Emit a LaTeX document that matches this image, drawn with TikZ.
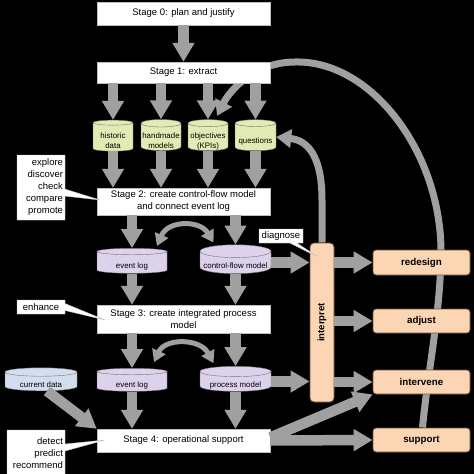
\documentclass[tikz,border=0pt]{standalone}
\usepackage{fontspec}
\setmainfont{Liberation Sans}
\usetikzlibrary{arrows.meta,shapes.geometric,shapes.callouts}
\pgfdeclarelayer{bottom}
\pgfdeclarelayer{background}
\pgfsetlayers{bottom,background,main}
\definecolor{agray}{RGB}{160,160,160}
\definecolor{cgreen}{RGB}{226,235,180}
\definecolor{clav}{RGB}{221,210,235}
\definecolor{cblue}{RGB}{210,222,238}
\definecolor{peach}{RGB}{252,213,180}
\definecolor{peachb}{RGB}{110,80,50}
\newcommand{\cyltext}[1]{\raisebox{-4.5pt}[\height][\depth]{\begin{tabular}{@{}c@{}}#1\end{tabular}}}
\begin{document}
\begin{tikzpicture}[x=1pt,y=-1pt,
  stagebox/.style={draw=black!25, fill=white, minimum width=173pt, inner sep=1pt, align=center, font=\fontsize{9.5}{12}\selectfont},
  cyl/.style={cylinder, shape border rotate=90, aspect=0.2, draw=black!55, inner sep=0pt, font=\fontsize{7.9}{9.4}\selectfont},
  peachbox/.style={draw=peachb, line width=0.8pt, fill=peach, rounded corners=3pt, minimum width=97pt, minimum height=24pt, inner sep=0pt, font=\bfseries\fontsize{9.8}{11}\selectfont},
  notebox/.style={rectangle callout, draw=black!25, fill=white, inner sep=1.5pt, align=right, callout pointer width=7pt, font=\fontsize{9.5}{12}\selectfont},
  fat/.style={draw=agray, line width=10.5pt, -{Triangle[width=21pt,length=19pt]}},
  curvy/.style={draw=agray, line width=7pt, -{Triangle[width=18pt,length=15pt]}},
  dbl/.style={draw=agray, line width=5pt, {Triangle[width=14pt,length=12pt]}-{Triangle[width=14pt,length=12pt]}}
]
\begin{pgfonlayer}{bottom}
\fill[black] (0,0) rectangle (474,474);
\end{pgfonlayer}
\useasboundingbox (0,0) rectangle (474,474);

% stages
\node[stagebox, minimum height=23pt] (s0) at (183.5,13.5) {Stage 0: plan and justify};
\node[stagebox, minimum height=21pt] (s1) at (183.5,72.5) {Stage 1: extract};
\node[stagebox, minimum height=27pt] (s2) at (183.5,201.5) {Stage 2: create control-flow model\\and connect event log};
\node[stagebox, minimum height=28pt] (s3) at (183.5,319) {Stage 3: create integrated process\\model};
\node[stagebox, minimum height=23pt] (s4) at (183.5,440.5) {Stage 4: operational support};

% cylinders
\node[cyl, fill=cgreen, minimum width=40pt, minimum height=31pt] (hist) at (113,137) {\cyltext{historic\\data}};
\node[cyl, fill=cgreen, minimum width=40pt, minimum height=31pt] (hand) at (161,137) {\cyltext{handmade\\models}};
\node[cyl, fill=cgreen, minimum width=40pt, minimum height=31pt] (obj) at (208,137) {\cyltext{objectives\\(KPIs)}};
\node[cyl, fill=cgreen, minimum width=41pt, minimum height=31pt] (ques) at (255.5,137) {\cyltext{questions}};
\node[cyl, fill=clav, minimum width=70pt, minimum height=25pt] (ev1) at (132,262.5) {\cyltext{event log}};
\node[cyl, fill=clav, minimum width=71pt, minimum height=25pt] (cf) at (235.5,262.5) {\cyltext{control-flow model}};
\node[cyl, fill=clav, minimum width=70pt, minimum height=23pt] (ev2) at (132,381.5) {\cyltext{event log}};
\node[cyl, fill=clav, minimum width=71pt, minimum height=23pt] (pm) at (235.5,381.5) {\cyltext{process model}};
\node[cyl, fill=cblue, minimum width=72pt, minimum height=23pt] (cur) at (41,381.5) {\cyltext{current data}};

% interpret and outcomes
\node[draw=peachb, line width=0.8pt, fill=peach, rounded corners=4pt, minimum width=24pt, minimum height=159pt, inner sep=0pt] (interp) at (322,322.5) {};
\node[rotate=90, font=\bfseries\fontsize{9.5}{11}\selectfont] (interpt) at (interp.center) {interpret};
\node[peachbox, minimum height=25pt] (redesign) at (421.5,262.5) {redesign};
\node[peachbox] (adjust) at (421.5,321) {adjust};
\node[peachbox] (intervene) at (421.5,382) {intervene};
\node[peachbox] (support) at (421.5,440) {support};

% notes
\coordinate (p2) at (100,200);
\coordinate (p3) at (105,320);
\coordinate (p4) at (105,440);
\coordinate (pd) at (318,257);
\node[notebox, minimum width=48pt, minimum height=65pt, text width=44pt, callout absolute pointer=(p2)] (explore) at (41,187.5) {explore\\discover\\check\\compare\\promote};
\node[notebox, minimum width=48pt, minimum height=14pt, inner sep=1pt, callout absolute pointer=(p3)] (enhance) at (41,307) {enhance};
\node[notebox, minimum width=58pt, minimum height=46pt, text width=54pt, callout absolute pointer=(p4)] (detect) at (36,453) {detect\\predict\\recommend};
\node[notebox, minimum width=44pt, minimum height=14pt, inner sep=1pt, callout absolute pointer=(pd)] (diag) at (281,236) {diagnose};

% feedback curves behind
\begin{pgfonlayer}{background}
\draw[curvy] ([shift={(1,0)}]support.north) .. controls (428,370) and (441,310) .. (441,250)
   .. controls (440,150) and (370,60) .. (295,62)
   .. controls (255,62) and (230,90) .. ([shift={(9,-3.5)}]obj.north);
\draw[curvy] (interp.north) -- (322,200) .. controls (322,152) and (305,140) .. (ques.east);
\end{pgfonlayer}

% straight arrows
\draw[fat] (s0.south) -- (s1.north);
\foreach \c in {hist,hand,obj,ques}{
  \draw[fat] (\c.north |- s1.south) -- (\c.north);
  \draw[fat] (\c.south) -- (\c.south |- s2.north);
}
\draw[fat] (ev1.north |- s2.south) -- (ev1.north);
\draw[fat] (cf.north |- s2.south) -- (cf.north);
\draw[fat] (ev1.south) -- (ev1.south |- s3.north);
\draw[fat] (cf.south) -- (cf.south |- s3.north);
\draw[fat] (ev2.north |- s3.south) -- (ev2.north);
\draw[fat] (pm.north |- s3.south) -- (pm.north);
\draw[fat] (ev2.south) -- (ev2.south |- s4.north);
\draw[fat] (pm.south) -- (pm.south |- s4.north);
\draw[fat] (cf.east) -- (cf.east -| interp.west);
\draw[fat] (pm.east) -- (pm.east -| interp.west);
\draw[fat] (redesign.west -| interp.east) -- (redesign.west);
\draw[fat] (adjust.west -| interp.east) -- (adjust.west);
\draw[fat] (intervene.west -| interp.east) -- (intervene.west);
\draw[fat] ([shift={(6,0)}]cur.south) -- (s4.north west);
\draw[fat] (s4.east) -- (support.west);
\draw[fat] ([shift={(0,-3)}]s4.east) -- (intervene.south west);

% double arrows
\draw[dbl] ([shift={(25,-2)}]ev1.north) .. controls (168,220) and (200,220) .. ([shift={(-22,-2)}]cf.north);
\draw[dbl] ([shift={(22,-6)}]ev2.north) .. controls (165,338) and (200,338) .. ([shift={(-22,-3)}]pm.north);
\end{tikzpicture}
\end{document}
